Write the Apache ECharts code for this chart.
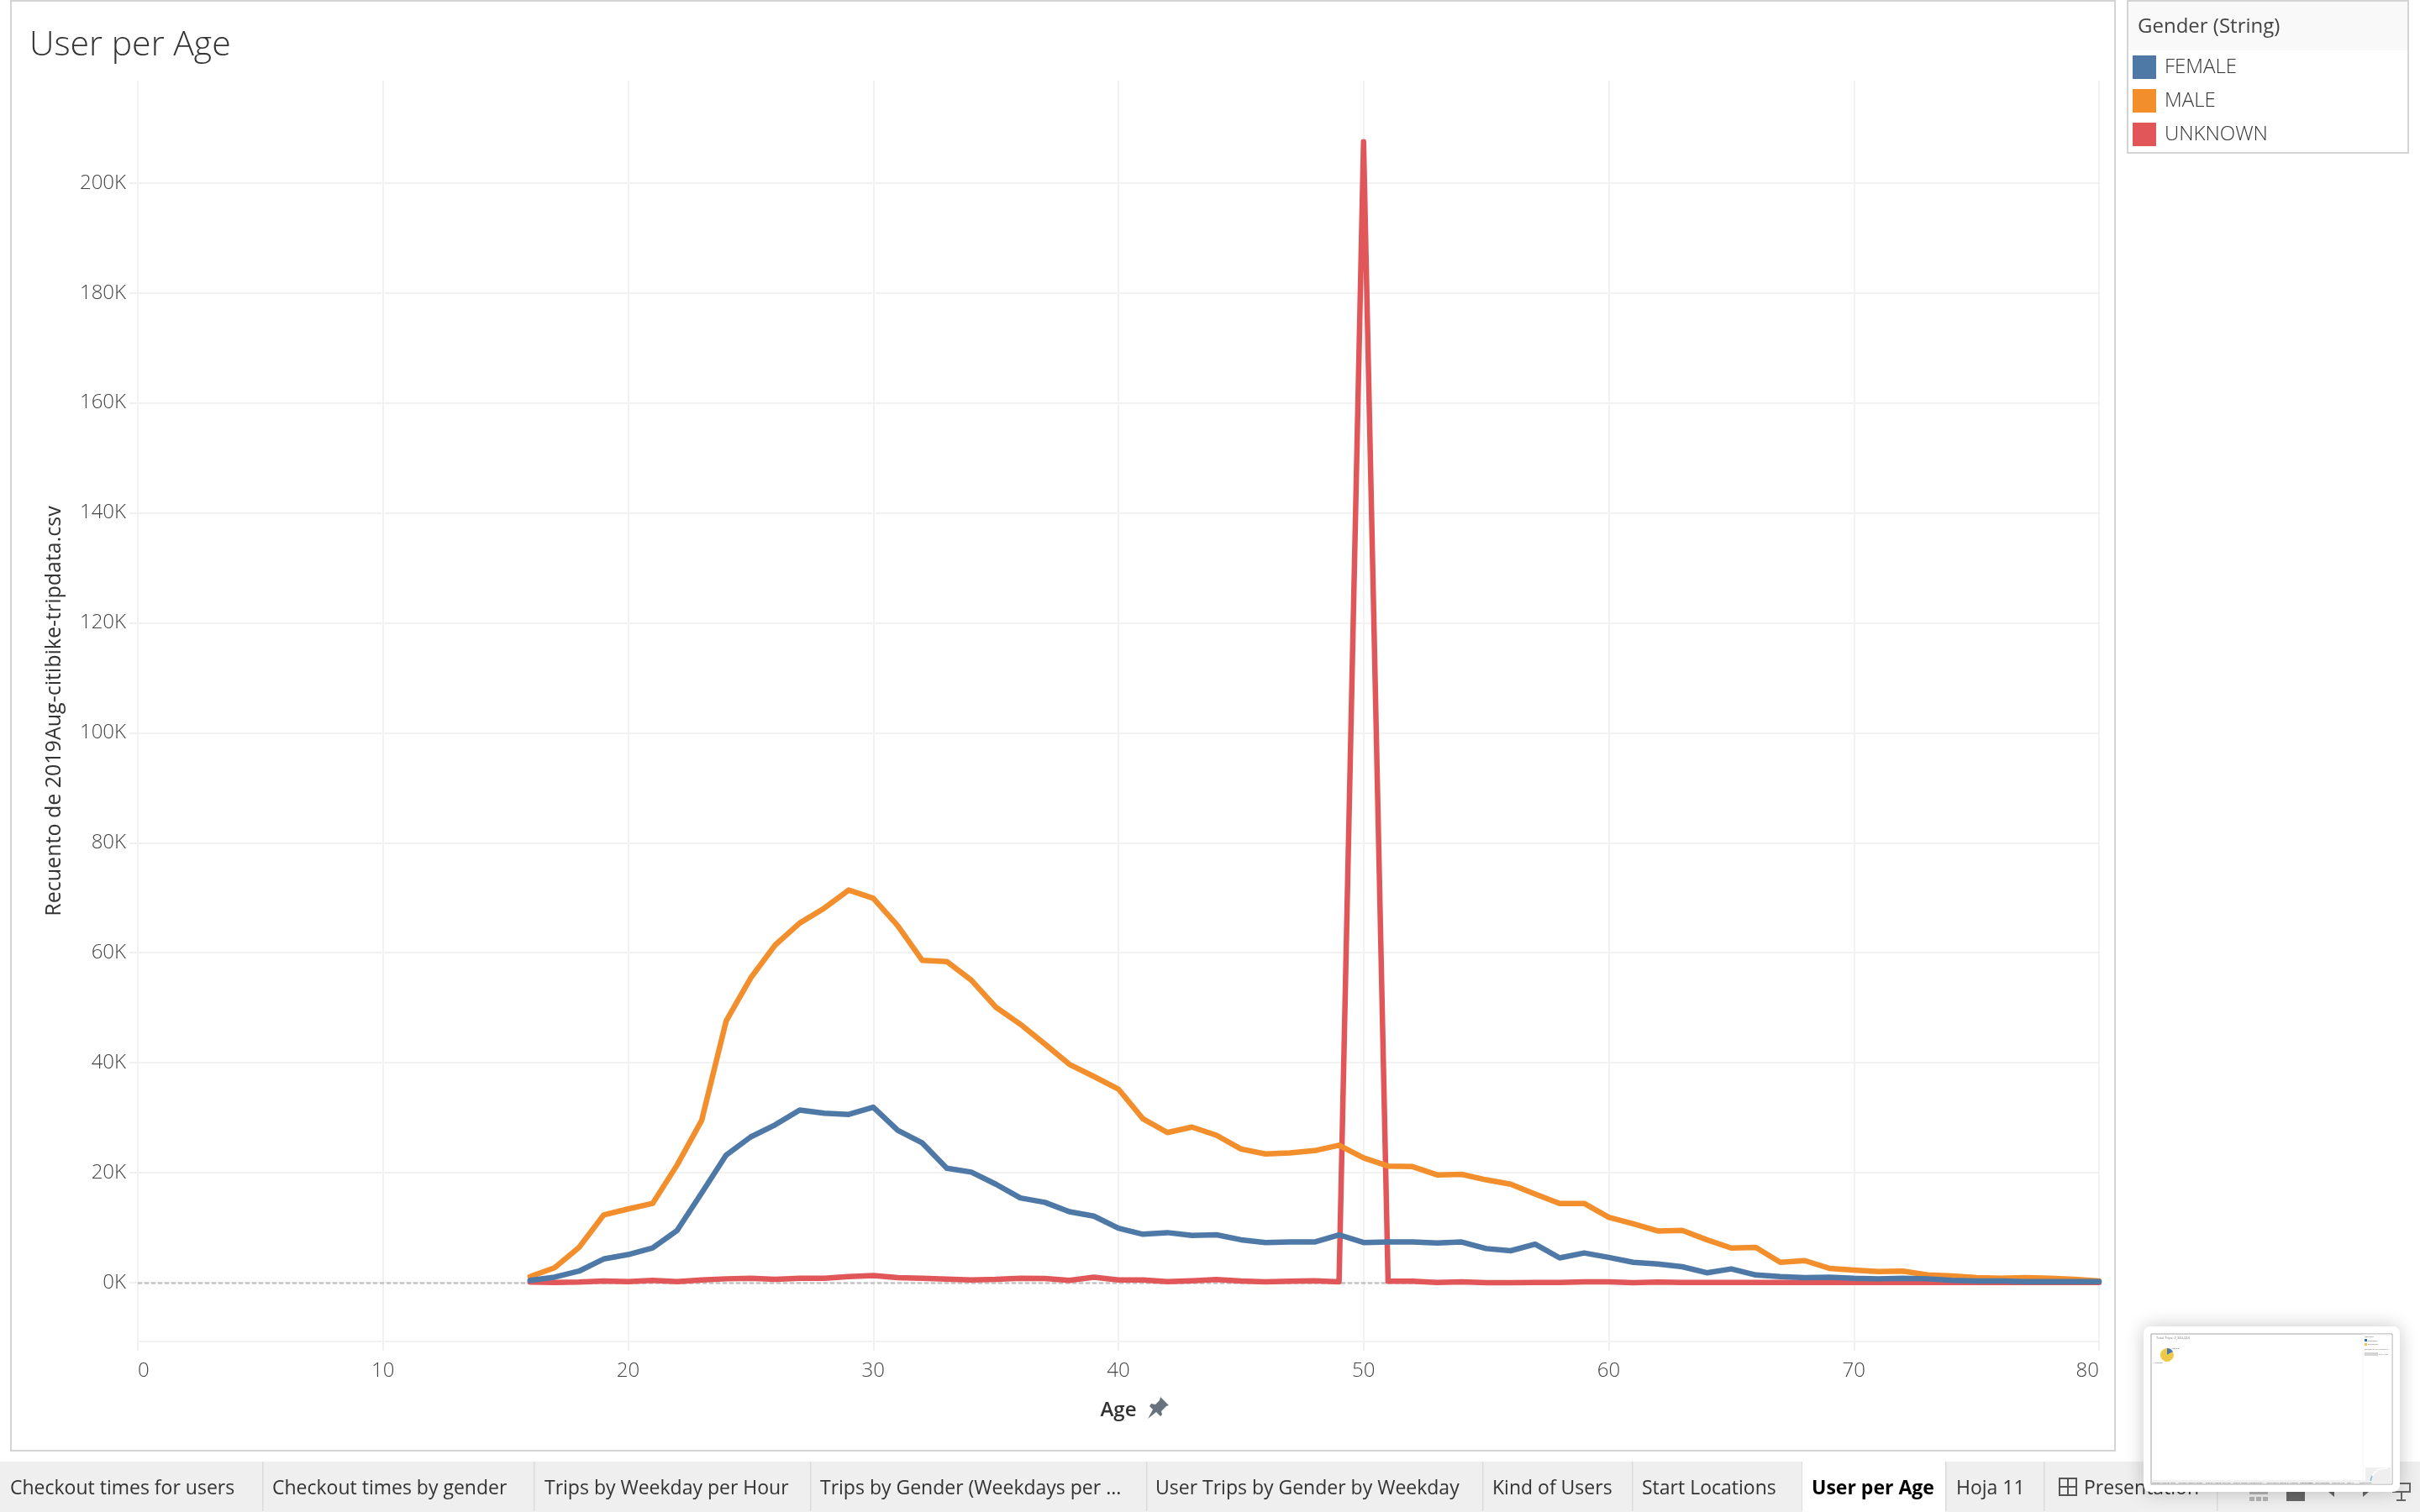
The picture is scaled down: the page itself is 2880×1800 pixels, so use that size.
<!DOCTYPE html>
<html>
<head>
<meta charset="utf-8">
<title>User per Age</title>
<script src="https://cdn.jsdelivr.net/npm/echarts@6/dist/echarts.min.js"></script>
<style>
    html, body { margin: 0; padding: 0; background: #fff; }
    #main { width: 2880px; height: 1800px; }
</style>
</head>
<body>
<div id="main"></div>
<script>
var FONT = '"Open Sans", sans-serif';

// values
var ages = [16,17,18,19,20,21,22,23,24,25,26,27,28,29,30,31,32,33,34,35,36,37,38,39,40,41,42,43,44,45,46,47,48,
    49,50,51,52,53,54,55,56,57,58,59,60,61,62,63,64,65,66,67,68,69,70,71,72,73,74,75,76,77,78,79,80];
var female = [400,1000,2100,4300,5100,6300,9500,16300,23200,26500,28700,31400,30800,30600,31900,27700,25400,20800,20100,17900,
    15400,14600,12900,12100,9900,8800,9100,8600,8700,7800,7300,7400,7400,8700,7300,7400,7400,7200,7400,6200,5800,7000,4500,5400,
    4600,3700,3400,2900,1800,2500,1400,1100,900,1000,800,700,800,700,400,300,300,200,200,200,200];
var male = [1100,2700,6400,12300,13400,14400,21400,29500,47600,55400,61400,65400,68100,71400,69900,64900,58600,58400,55000,50100,
    47000,43400,39700,37500,35200,29800,27300,28300,26800,24300,23400,23600,24000,25000,22700,21200,21100,19600,19700,18700,17900,16100,14400,14400,
    11900,10700,9400,9500,7800,6300,6400,3700,4000,2600,2300,2000,2100,1400,1200,900,800,900,800,600,300];
var unknown = [100,50,100,300,200,400,200,500,700,800,600,800,800,1100,1300,900,800,650,500,600,
    800,750,400,1000,500,500,200,350,550,300,150,250,350,150,207500,250,250,50,150,0,0,50,50,150,
    150,0,100,50,50,50,50,50,50,50,50,50,50,50,50,50,50,50,50,50,50];
var yTicks = [0,20000,40000,60000,80000,100000,120000,140000,160000,180000,200000];
var legendNames = ['FEMALE', 'MALE', 'UNKNOWN'];
var tabNames = ['Checkout times for users', 'Checkout times by gender', 'Trips by Weekday per Hour', 'Trips by Gender (Weekdays per ...',
    'User Trips by Gender by Weekday', 'Kind of Users', 'Start Locations', 'User per Age', 'Hoja 11', 'Presentation'];
var tabStarts = [12, 324, 648, 976, 1375, 1776, 1954, 2156, 2328, 2480];
var tabEdges = [312, 635, 964, 1364, 1764, 1942, 2144, 2315, 2432, 2638];
var thumbPieNames = ['Customer', 'Subscriber'];
var thumbPieValues = [405863, 1938361];

function txt(text, x, y, size, color, extra) {
    var style = { text: text, x: x, y: y, fontSize: size, fontFamily: FONT, fill: color, verticalAlign: 'middle' };
    for (var k in extra) { if (k !== 'z') style[k] = extra[k]; }
    return { type: 'text', z: (extra && extra.z) || 1, style: style, silent: true };
}
function box(x, y, w, h, style, z, r) {
    return { type: 'rect', z: z || 0, silent: true, shape: { x: x, y: y, width: w, height: h, r: r || 0 }, style: style };
}
function poly(points, color, z) {
    return { type: 'polygon', z: z || 1, silent: true, shape: { points: points }, style: { fill: color } };
}
function stroke(points, color, width, z) {
    return { type: 'polyline', z: z, silent: true, shape: { points: points }, style: { fill: 'none', stroke: color, lineWidth: width } };
}

var gfx = [];
// frame + legend panel
gfx.push(box(13, 1, 2504, 1726, { fill: 'none', stroke: '#d4d4d4', lineWidth: 2 }));
gfx.push(box(2532, 1, 334, 181, { fill: '#fff', stroke: '#d4d4d4', lineWidth: 2 }));
gfx.push(box(2533, 2, 332, 58, { fill: '#f9f9f9' }));
gfx.push(txt('Gender (String)', 2544, 32, 24, '#444'));

// pin next to the Age title
gfx.push(poly([[1381, 1663], [1391, 1673], [1388, 1674], [1382, 1680], [1383, 1684], [1381, 1686], [1376, 1681],
    [1366, 1689], [1372, 1678], [1368, 1674], [1370, 1671], [1375, 1672], [1380, 1667]], '#68727f'));

// tab strip
gfx.push(box(0, 1740, 2880, 60, { fill: '#efefef' }));
tabEdges.forEach(function (x) {
    gfx.push(box(x, 1740, 1.5, 59, { fill: '#dcdcdc' }, 1));
});
gfx.push(box(2145, 1740, 170, 60, { fill: '#fff' }, 1));
tabNames.forEach(function (name, i) {
    gfx.push(txt(name, tabStarts[i], 1772, 23, name === 'User per Age' ? '#000' : '#333',
        { fontWeight: name === 'User per Age' ? 700 : 400, z: 2 }));
});
// small grid icon of the Presentation tab
gfx.push(box(2451, 1760, 20, 20, { fill: 'none', stroke: '#555', lineWidth: 2 }, 2));
gfx.push(box(2451, 1769, 20, 2, { fill: '#555' }, 2));
gfx.push(box(2460, 1760, 2, 20, { fill: '#555' }, 2));

// toolbar, mostly behind the thumbnail
gfx.push(box(2677, 1776, 22, 3, { fill: '#b4b4b4' }, 1));
gfx.push(box(2677, 1782, 6, 5, { fill: '#b4b4b4' }, 1));
gfx.push(box(2685, 1782, 6, 5, { fill: '#b4b4b4' }, 1));
gfx.push(box(2693, 1782, 6, 5, { fill: '#b4b4b4' }, 1));
gfx.push(box(2721, 1776, 22, 11, { fill: '#666' }, 1));
gfx.push(poly([[2771, 1776], [2778, 1776], [2778, 1782]], '#666'));
gfx.push(poly([[2812, 1776], [2819, 1776], [2812, 1782]], '#666'));
gfx.push(box(2848, 1766, 20, 10, { fill: 'none', stroke: '#666', lineWidth: 2 }, 1));
gfx.push(box(2857, 1776, 2, 9, { fill: '#666' }, 1));
gfx.push(box(2852, 1785, 11, 2, { fill: '#666' }, 1));

// hover thumbnail of the other sheet
gfx.push(box(2551, 1579, 305, 197, { fill: '#fff', shadowBlur: 22, shadowColor: 'rgba(0,0,0,.22)' }, 3, 8));
gfx.push(box(2560, 1588, 287, 179, { fill: '#fff', stroke: '#a3a3a3', lineWidth: 1 }, 3));
gfx.push(box(2812, 1589, 34, 177, { fill: '#fff', stroke: '#f4f4f4', lineWidth: 1 }, 3));
gfx.push(box(2561, 1762, 285, 4, { fill: '#f1f1f1' }, 3));
gfx.push(txt('Total Trips: 2,344,224', 2566, 1593, 4, '#777', { z: 4 }));
gfx.push(txt('405,863', 2584, 1605, 2.5, '#555', { z: 4 }));
gfx.push(txt('1,938,361', 2563, 1622, 2.5, '#555', { z: 4 }));
gfx.push(txt('UserType', 2814, 1591, 2.5, '#555', { z: 4 }));
gfx.push(box(2814, 1594, 3, 3, { fill: '#2f6fb0' }, 4));
gfx.push(box(2814, 1599, 3, 3, { fill: '#edc948' }, 4));
gfx.push(txt('Customer', 2818, 1596, 2.5, '#555', { z: 4 }));
gfx.push(txt('Subscriber', 2818, 1600, 2.5, '#555', { z: 4 }));
gfx.push(txt('CNT(2019Aug-citibike-tri...', 2814, 1606, 2.5, '#555', { z: 4 }));
gfx.push(box(2814, 1610, 16, 4, { fill: '#d4d4d4' }, 4));
gfx.push(txt('2,344,224', 2831, 1612, 2.5, '#555', { z: 4 }));
gfx.push(box(2815, 1747, 30, 18, { fill: '#efefef' }, 4));
gfx.push(stroke([[2820, 1764], [2825, 1754], [2831, 1749], [2842, 1748]], '#fff', 1.5, 5));
gfx.push(stroke([[2821, 1763], [2823, 1757]], '#7fb4cc', 1.5, 5));
tabNames.forEach(function (name, i) {
    gfx.push(txt(name, 2560 + tabStarts[i] / 10, 1765, 2.4, name === 'Kind of Users' ? '#000' : '#555', { z: 4 }));
});

function lineSeries(name, values, color, z) {
    return {
        name: name,
        type: 'line',
        z: z,
        data: ages.map(function (a, i) { return [a, values[i]]; }),
        symbol: 'none',
        smooth: false,
        animation: false,
        silent: true,
        lineStyle: { color: color, width: 6.5, cap: 'round', join: 'round' },
        itemStyle: { color: color }
    };
}

var femaleSeries = lineSeries('FEMALE', female, '#4e79a7', 5);
var maleSeries = lineSeries('MALE', male, '#f28e2b', 4);
var unknownSeries = lineSeries('UNKNOWN', unknown, '#e15759', 3);
// dotted zero line
unknownSeries.markLine = {
    silent: true, symbol: 'none', animation: false, z: 1,
    label: { show: false },
    lineStyle: { color: '#c4c4c4', type: [5, 3], width: 2.5 },
    data: [{ yAxis: 0 }]
};

var option = {
    animation: false,
    backgroundColor: '#fff',
    title: {
        text: 'User per Age', left: 30, top: 29,
        textStyle: { fontFamily: FONT, fontSize: 41, fontWeight: 300, color: '#333' }
    },
    legend: {
        data: legendNames, orient: 'vertical', left: 2538, top: 66, padding: 0,
        icon: 'rect', itemWidth: 28, itemHeight: 28, itemGap: 12,
        selectedMode: false,
        textStyle: { fontFamily: FONT, fontSize: 24, fontWeight: 300, color: '#333', padding: [8, 0, 0, 5] }
    },
    grid: { left: 164, top: 96, width: 2334, height: 1501 },
    xAxis: {
        type: 'value', min: 0, max: 80, interval: 10,
        name: 'Age', nameLocation: 'middle', nameGap: 70,
        nameTextStyle: { fontFamily: FONT, fontSize: 24, fontWeight: 600, color: '#333' },
        axisLine: { show: true, onZero: false, lineStyle: { color: '#f2f2f2', width: 2 } },
        axisTick: { show: true, length: 11, lineStyle: { color: '#f0f0f0', width: 2 } },
        axisLabel: { margin: 23, fontFamily: FONT, fontSize: 24, fontWeight: 300, color: '#444', alignMinLabel: 'left', alignMaxLabel: 'right' },
        splitLine: { show: true, lineStyle: { color: '#f2f2f2', width: 2 } }
    },
    yAxis: {
        type: 'value', min: -10700, max: 218600,
        name: 'Recuento de 2019Aug-citibike-tripdata.csv', nameLocation: 'middle', nameGap: 87,
        nameTextStyle: { fontFamily: FONT, fontSize: 25, color: '#333' },
        axisLine: { show: false },
        axisTick: { show: true, length: 10, customValues: yTicks, lineStyle: { color: '#f0f0f0', width: 2 } },
        axisLabel: {
            customValues: yTicks, margin: 14, fontFamily: FONT, fontSize: 24, fontWeight: 300, color: '#444', padding: [10, 0, 0, 0],
            formatter: function (v) { return (v / 1000) + 'K'; }
        },
        splitLine: { show: true, lineStyle: { color: '#f2f2f2', width: 2 } }
    },
    series: [femaleSeries, maleSeries, unknownSeries, {
        type: 'pie', z: 6, silent: true, animation: false,
        center: [2579, 1613], radius: 8, startAngle: 90,
        label: { show: false }, labelLine: { show: false },
        color: ['#4e79a7', '#edc948'],
        data: thumbPieNames.map(function (n, i) { return { name: n, value: thumbPieValues[i] }; })
    }],
    graphic: gfx
};

var chart = echarts.init(document.getElementById('main'));
chart.setOption(option);
</script>
</body>
</html>
